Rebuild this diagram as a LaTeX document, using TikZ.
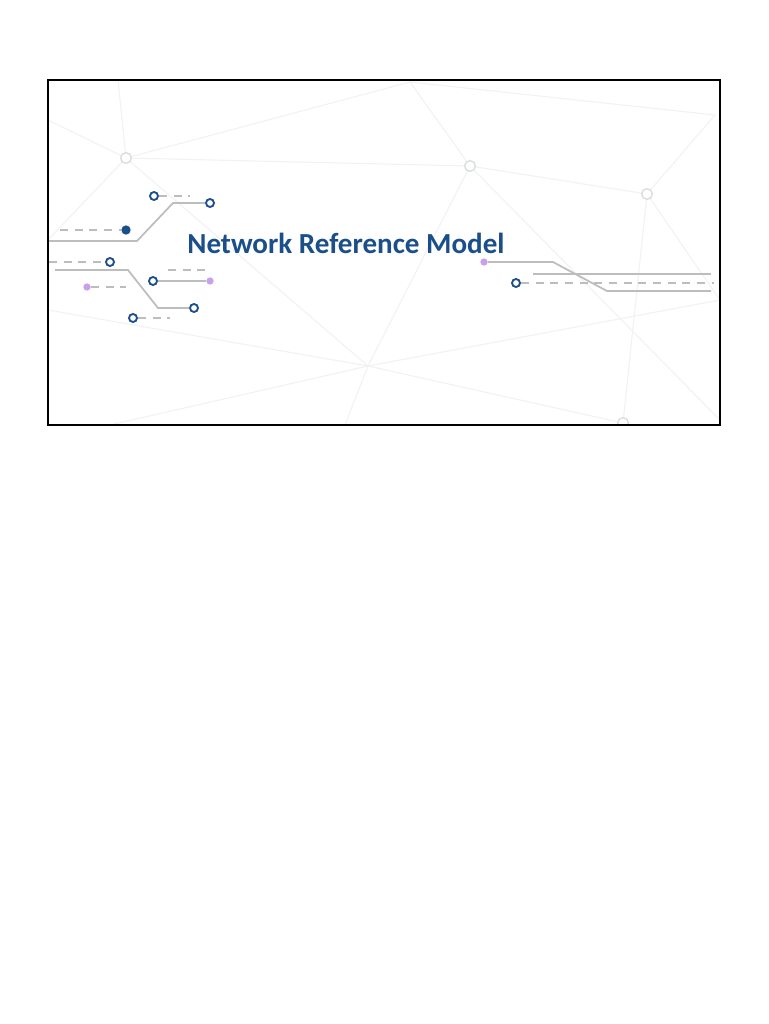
\documentclass[tikz,border=0pt]{standalone}
\usepackage{fontspec}
\setmainfont{Carlito}
\definecolor{dblue}{HTML}{1A4F8A}
\definecolor{lpur}{HTML}{C9A0EC}
\definecolor{wire}{HTML}{BDBDBD}
\definecolor{bg}{HTML}{F0F2F5}
\begin{document}
\begin{tikzpicture}[x=0.75pt,y=-0.75pt,
  bgl/.style={draw=bg,line width=0.8pt},
  bgc/.style={circle,draw=bg!80!gray,line width=1pt,fill=white,minimum size=8pt,inner sep=0},
  wl/.style={draw=wire,line width=1.3pt},
  dl/.style={draw=wire,line width=1.3pt,dash pattern=on 6pt off 5pt},
  oc/.style={circle,draw=dblue,line width=1.4pt,fill=white,minimum size=6pt,inner sep=0},
  fc/.style={circle,fill=dblue,minimum size=7pt,inner sep=0},
  pc/.style={circle,fill=lpur,minimum size=5.5pt,inner sep=0}]
\useasboundingbox (0,0) rectangle (768,1024);
\fill[white] (0,0) rectangle (768,1024);
\begin{scope}
\clip (48,80) rectangle (720,425);
\coordinate (v1) at (126,158);\coordinate (v2) at (470,166);\coordinate (v3) at (647,194);
\coordinate (v4) at (410,82);\coordinate (v5) at (368,366);\coordinate (v6) at (623,423);
\coordinate (v7) at (715,115);
\draw[bgl] (48,120)--(v1)--(v4)--(v2)--(v3)--(v7)--(v4);
\draw[bgl] (v1)--(v2)--(v5)--(v1);
\draw[bgl] (v3)--(720,300);\draw[bgl] (v5)--(720,300);
\draw[bgl] (v5)--(110,425);\draw[bgl] (v5)--(345,425);\draw[bgl] (v5)--(v6);
\draw[bgl] (48,310)--(v5);\draw[bgl] (v2)--(720,420);\draw[bgl] (v3)--(v6);
\draw[bgl] (118,80)--(v1);\draw[bgl] (48,240)--(v1);
\node[bgc] (c1) at (v1) {};\node[bgc] (c2) at (v2) {};
\node[bgc] (c3) at (v3) {};\node[bgc] (c4) at (v6) {};
\end{scope}
\draw[black,line width=1pt] (48,80) rectangle (720,425);
% left circuit
\node[fc] (a1) at (126,230) {};
\coordinate (a1s) at (60,230);\draw[dl] (a1s)--(a1);
\node[oc] (a2) at (210,203) {};
\coordinate (a2s) at (49,241);\draw[wl] (a2s)--(137,241)--(173,203)--(a2);
\node[oc] (a3) at (154,196) {};
\coordinate (a3e) at (190,196);\draw[dl] (a3)--(a3e);
\node[oc] (b1) at (110,262) {};
\coordinate (b1s) at (49,262);\draw[dl] (b1s)--(b1);
\node[oc] (b2) at (194,308) {};
\coordinate (b2s) at (55,270);\draw[wl] (b2s)--(128,270)--(158,308)--(b2);
\node[oc] (b3) at (153,281) {};\node[pc] (b4) at (210,281) {};
\draw[wl] (b3)--(b4);
\coordinate (d1) at (168,270);\coordinate (d2) at (207,270);\draw[dl] (d1)--(d2);
\node[pc] (b5) at (87,287) {};
\coordinate (b5e) at (126,287);\draw[dl] (b5)--(b5e);
\node[oc] (b6) at (133,318) {};
\coordinate (b6e) at (170,318);\draw[dl] (b6)--(b6e);
% right circuit
\node[pc] (r1) at (484,262) {};
\coordinate (r1e) at (711,291);\draw[wl] (r1)--(553,262)--(607,291)--(r1e);
\coordinate (r2s) at (533,274);\coordinate (r2e) at (711,274);\draw[wl] (r2s)--(r2e);
\node[oc] (r3) at (516,283) {};
\coordinate (r3e) at (714,283);\draw[dl] (r3)--(r3e);
\node[text=dblue,font=\bfseries\fontsize{21.8}{24}\selectfont] (t) at (346,243) {Network Reference Model};
\end{tikzpicture}
\end{document}
